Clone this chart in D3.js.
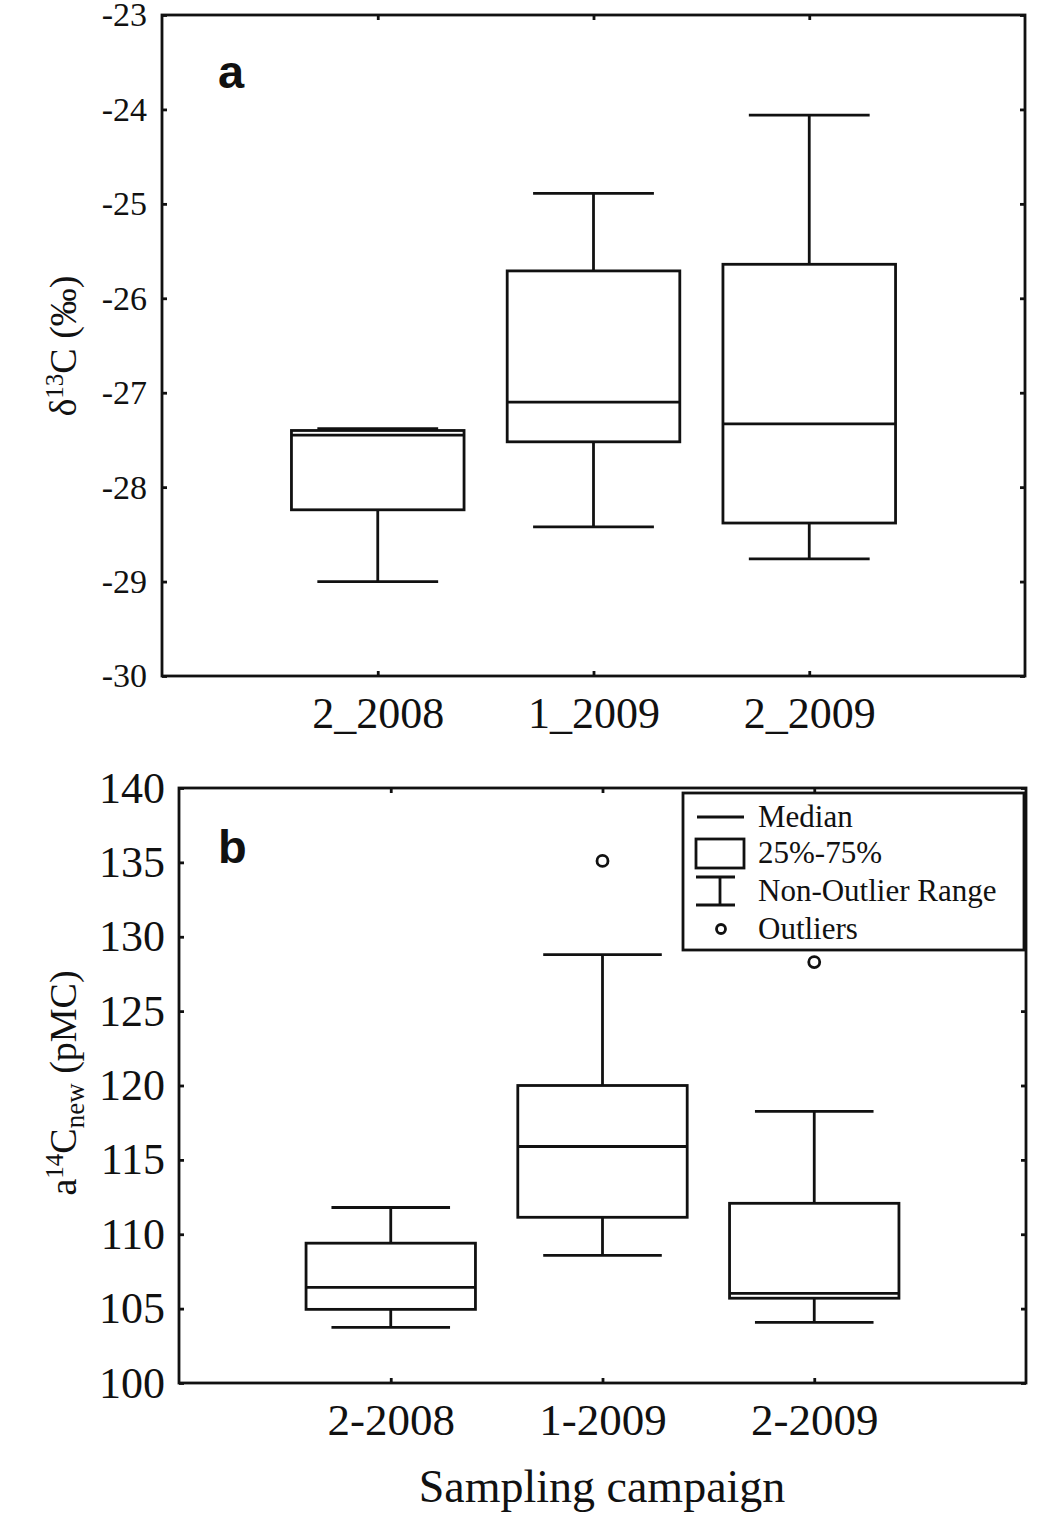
<!DOCTYPE html>
<html>
<head>
<meta charset="utf-8">
<script src="https://cdn.jsdelivr.net/npm/d3@7"></script>
<style>
  body { margin: 0; background: #fff; }
  text { font-family: "Liberation Serif", "Times New Roman", serif; fill: #111; }
</style>
</head>
<body>
<script>
// panel a data: d13C box stats
var catsA = ["2_2008", "1_2009", "2_2009"];
var minA = [-29.0, -28.42, -28.76];
var q1A = [-28.24, -27.52, -28.38];
var medA = [-27.45, -27.10, -27.33];
var q3A = [-27.40, -25.71, -25.64];
var maxA = [-27.38, -24.89, -24.06];
var ticksA = [-30, -29, -28, -27, -26, -25, -24, -23];

// panel b data: a14Cnew box stats
var catsB = ["2-2008", "1-2009", "2-2009"];
var minB = [103.74, 108.58, 104.08];
var q1B = [104.95, 111.14, 105.7];
var medB = [106.43, 115.9, 106.02];
var q3B = [109.4, 120.0, 112.08];
var maxB = [111.8, 128.8, 118.26];
var outCats = ["1-2009", "2-2009"];
var outVals = [135.1, 128.3];
var ticksB = [100, 105, 110, 115, 120, 125, 130, 135, 140];

var legendLabels = ["Median", "25%-75%", "Non-Outlier Range", "Outliers"];

var W = 1048, H = 1534;
var svg = d3.select("body").append("svg")
  .attr("width", W).attr("height", H);
svg.append("rect").attr("width", W).attr("height", H).attr("fill", "#fff");

var LW = 2.8;

function drawPanel(p) {
  var x = d3.scalePoint().domain(p.cats).range([p.left, p.right]).padding(1);
  var y = d3.scaleLinear().domain(p.domain).range([p.bottom, p.top]);
  var step = x.step();
  var bw = step * 0.8, cw = step * 0.56;

  var g = svg.append("g");

  // axes, ticks pointing inward
  var left = g.append("g").attr("transform", "translate(" + p.left + ",0)")
    .call(d3.axisLeft(y).tickValues(p.ticks).tickSize(-5).tickSizeOuter(0)
      .tickPadding(p.tickPad).tickFormat(function(d) { return String(d); }));
  left.selectAll("text").style("font-size", p.tickFont + "px")
    .style("font-family", "Liberation Serif").attr("fill", "#111");

  g.append("g").attr("transform", "translate(" + p.right + ",0)")
    .call(d3.axisRight(y).tickValues(p.ticks).tickSize(-5).tickSizeOuter(0).tickFormat(""));

  g.append("g").attr("transform", "translate(0," + p.top + ")")
    .call(d3.axisTop(x).tickSize(-5).tickSizeOuter(0).tickFormat(""));

  var bottom = g.append("g").attr("transform", "translate(0," + p.bottom + ")")
    .call(d3.axisBottom(x).tickSize(-5).tickSizeOuter(0));
  bottom.selectAll("text").attr("y", 52).attr("dy", 0)
    .style("font-size", p.catFont + "px")
    .style("font-family", "Liberation Serif").attr("fill", "#111");

  g.selectAll(".domain").remove();
  g.selectAll(".tick line").attr("stroke", "#111").attr("stroke-width", LW);

  // frame
  g.append("rect")
    .attr("x", p.left).attr("y", p.top)
    .attr("width", p.right - p.left).attr("height", p.bottom - p.top)
    .attr("fill", "none").attr("stroke", "#111").attr("stroke-width", LW);

  // boxes
  var data = p.cats.map(function(c, i) {
    return {c: c, min: p.min[i], q1: p.q1[i], med: p.med[i], q3: p.q3[i], max: p.max[i]};
  });
  var b = g.selectAll(".box").data(data).enter().append("g").attr("class", "box");

  b.append("line")
    .attr("x1", function(d) { return x(d.c); }).attr("x2", function(d) { return x(d.c); })
    .attr("y1", function(d) { return y(d.max); }).attr("y2", function(d) { return y(d.q3); });
  b.append("line")
    .attr("x1", function(d) { return x(d.c); }).attr("x2", function(d) { return x(d.c); })
    .attr("y1", function(d) { return y(d.q1); }).attr("y2", function(d) { return y(d.min); });
  ["max", "min"].forEach(function(k) {
    b.append("line")
      .attr("x1", function(d) { return x(d.c) - cw / 2; })
      .attr("x2", function(d) { return x(d.c) + cw / 2; })
      .attr("y1", function(d) { return y(d[k]); }).attr("y2", function(d) { return y(d[k]); });
  });
  b.append("rect")
    .attr("x", function(d) { return x(d.c) - bw / 2; })
    .attr("y", function(d) { return y(d.q3); })
    .attr("width", bw)
    .attr("height", function(d) { return y(d.q1) - y(d.q3); })
    .attr("fill", "none");
  b.append("line")
    .attr("x1", function(d) { return x(d.c) - bw / 2; })
    .attr("x2", function(d) { return x(d.c) + bw / 2; })
    .attr("y1", function(d) { return y(d.med); }).attr("y2", function(d) { return y(d.med); });
  b.selectAll("line, rect").attr("stroke", "#111").attr("stroke-width", LW);

  if (p.outCats) {
    g.selectAll(".out").data(p.outCats).enter().append("circle")
      .attr("cx", function(d) { return x(d); })
      .attr("cy", function(d, i) { return y(p.outVals[i]); })
      .attr("r", 5.5).attr("fill", "#fff").attr("stroke", "#111").attr("stroke-width", LW);
  }

  // panel letter
  g.append("text").attr("x", 218).attr("y", p.letterY)
    .style("font-family", "Liberation Sans, Arial, sans-serif")
    .style("font-weight", "bold").style("font-size", "47px")
    .text(p.letter);

  return {x: x, y: y};
}

drawPanel({
  cats: catsA, min: minA, q1: q1A, med: medA, q3: q3A, max: maxA,
  domain: [-30, -23], ticks: ticksA,
  left: 162, right: 1025, top: 15, bottom: 676,
  tickPad: 15, tickFont: 34, catFont: 44, letter: "a", letterY: 88
});

drawPanel({
  cats: catsB, min: minB, q1: q1B, med: medB, q3: q3B, max: maxB,
  outCats: outCats, outVals: outVals,
  domain: [100, 140], ticks: ticksB,
  left: 179, right: 1026, top: 788, bottom: 1383,
  tickPad: 14, tickFont: 44, catFont: 45, letter: "b", letterY: 863
});

// y axis titles
var ta = svg.append("text")
  .attr("transform", "translate(76,346) rotate(-90)")
  .attr("text-anchor", "middle").style("font-size", "38px");
ta.append("tspan").text("\u03b4");
ta.append("tspan").attr("dy", -13).style("font-size", "25px").text("13");
ta.append("tspan").attr("dy", 13).text("C (\u2030)");

var tb = svg.append("text")
  .attr("transform", "translate(76,1083) rotate(-90)")
  .attr("text-anchor", "middle").style("font-size", "38px");
tb.append("tspan").text("a");
tb.append("tspan").attr("dy", -13).style("font-size", "25px").text("14");
tb.append("tspan").attr("dy", 13).text("C");
tb.append("tspan").attr("dy", 8).style("font-size", "27px").text("new");
tb.append("tspan").attr("dy", -8).text(" (pMC)");

svg.append("text").attr("x", 602).attr("y", 1502)
  .attr("text-anchor", "middle").style("font-size", "46px")
  .text("Sampling campaign");

// legend
var lg = svg.append("g");
lg.append("rect").attr("x", 683).attr("y", 793).attr("width", 341).attr("height", 157)
  .attr("fill", "#fff").attr("stroke", "#111").attr("stroke-width", LW);
var rowY = [817, 853, 891, 929];
lg.append("line").attr("x1", 697).attr("x2", 744).attr("y1", rowY[0]).attr("y2", rowY[0]);
lg.append("rect").attr("x", 696).attr("y", 839).attr("width", 48).attr("height", 29).attr("fill", "none");
lg.append("line").attr("x1", 696).attr("x2", 735).attr("y1", 877).attr("y2", 877);
lg.append("line").attr("x1", 696).attr("x2", 735).attr("y1", 905).attr("y2", 905);
lg.append("line").attr("x1", 720).attr("x2", 720).attr("y1", 877).attr("y2", 905);
lg.append("circle").attr("cx", 721).attr("cy", rowY[3]).attr("r", 4.5).attr("fill", "#fff");
lg.selectAll("line, rect:not(:first-child), circle").attr("stroke", "#111").attr("stroke-width", LW);
lg.selectAll(".lt").data(legendLabels).enter().append("text")
  .attr("x", 758).attr("y", function(d, i) { return rowY[i] + 10; })
  .style("font-size", "31px").text(function(d) { return d; });
</script>
</body>
</html>
